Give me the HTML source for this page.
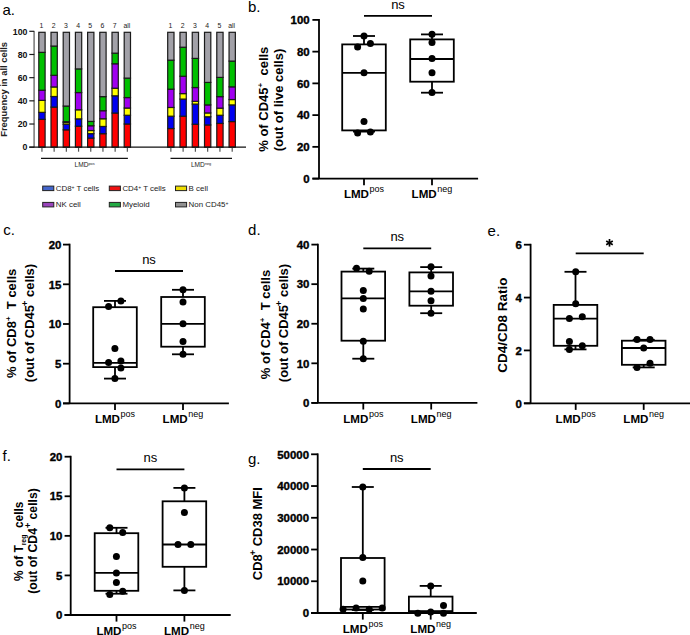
<!DOCTYPE html>
<html><head><meta charset="utf-8"><style>
html,body{margin:0;padding:0;background:#fff;}
svg{display:block;font-family:"Liberation Sans", sans-serif;}
</style></head><body>
<svg width="690" height="635" viewBox="0 0 690 635">
<rect width="690" height="635" fill="#fff"/>
<line x1="319.00" y1="19.00" x2="319.00" y2="178.60" stroke="#000" stroke-width="1.8"/>
<line x1="312.40" y1="178.60" x2="319.00" y2="178.60" stroke="#000" stroke-width="1.8"/>
<text transform="translate(309.70,182.80) scale(1.08,1)" font-size="10.6" font-weight="bold" text-anchor="end" stroke="#000" stroke-width="0.35">0</text>
<line x1="312.40" y1="146.86" x2="319.00" y2="146.86" stroke="#000" stroke-width="1.8"/>
<text transform="translate(309.70,151.06) scale(1.08,1)" font-size="10.6" font-weight="bold" text-anchor="end" stroke="#000" stroke-width="0.35">20</text>
<line x1="312.40" y1="115.12" x2="319.00" y2="115.12" stroke="#000" stroke-width="1.8"/>
<text transform="translate(309.70,119.32) scale(1.08,1)" font-size="10.6" font-weight="bold" text-anchor="end" stroke="#000" stroke-width="0.35">40</text>
<line x1="312.40" y1="83.38" x2="319.00" y2="83.38" stroke="#000" stroke-width="1.8"/>
<text transform="translate(309.70,87.58) scale(1.08,1)" font-size="10.6" font-weight="bold" text-anchor="end" stroke="#000" stroke-width="0.35">60</text>
<line x1="312.40" y1="51.64" x2="319.00" y2="51.64" stroke="#000" stroke-width="1.8"/>
<text transform="translate(309.70,55.84) scale(1.08,1)" font-size="10.6" font-weight="bold" text-anchor="end" stroke="#000" stroke-width="0.35">80</text>
<line x1="312.40" y1="19.90" x2="319.00" y2="19.90" stroke="#000" stroke-width="1.8"/>
<text transform="translate(309.70,24.10) scale(1.08,1)" font-size="10.6" font-weight="bold" text-anchor="end" stroke="#000" stroke-width="0.35">100</text>
<line x1="312.40" y1="178.60" x2="478.10" y2="178.60" stroke="#000" stroke-width="1.8"/>
<line x1="364.00" y1="178.60" x2="364.00" y2="185.20" stroke="#000" stroke-width="1.8"/>
<text x="364.00" y="198.20" text-anchor="middle" font-size="11.6" font-weight="bold">LMD<tspan font-size="9" font-weight="normal" dx="0.6" dy="-5.9">pos</tspan></text>
<line x1="432.00" y1="178.60" x2="432.00" y2="185.20" stroke="#000" stroke-width="1.8"/>
<text x="432.00" y="198.20" text-anchor="middle" font-size="11.6" font-weight="bold">LMD<tspan font-size="9" font-weight="normal" dx="0.6" dy="-5.9">neg</tspan></text>
<line x1="364.00" y1="36.00" x2="364.00" y2="44.40" stroke="#000" stroke-width="1.8"/>
<line x1="364.00" y1="130.40" x2="364.00" y2="131.60" stroke="#000" stroke-width="1.8"/>
<line x1="353.00" y1="36.00" x2="375.00" y2="36.00" stroke="#000" stroke-width="1.8"/>
<line x1="353.00" y1="131.60" x2="375.00" y2="131.60" stroke="#000" stroke-width="1.8"/>
<rect x="342.20" y="44.40" width="43.60" height="86.00" fill="none" stroke="#000" stroke-width="1.8"/>
<line x1="342.20" y1="72.90" x2="385.80" y2="72.90" stroke="#000" stroke-width="1.8"/>
<circle cx="364.00" cy="35.90" r="3.5" fill="#000"/>
<circle cx="357.60" cy="46.90" r="3.5" fill="#000"/>
<circle cx="370.40" cy="43.60" r="3.5" fill="#000"/>
<circle cx="364.00" cy="72.80" r="3.5" fill="#000"/>
<circle cx="364.00" cy="121.60" r="3.5" fill="#000"/>
<circle cx="357.60" cy="133.10" r="3.5" fill="#000"/>
<circle cx="370.40" cy="132.00" r="3.5" fill="#000"/>
<line x1="432.00" y1="34.40" x2="432.00" y2="39.40" stroke="#000" stroke-width="1.8"/>
<line x1="432.00" y1="81.70" x2="432.00" y2="92.70" stroke="#000" stroke-width="1.8"/>
<line x1="421.00" y1="34.40" x2="443.00" y2="34.40" stroke="#000" stroke-width="1.8"/>
<line x1="421.00" y1="92.70" x2="443.00" y2="92.70" stroke="#000" stroke-width="1.8"/>
<rect x="410.20" y="39.40" width="43.60" height="42.30" fill="none" stroke="#000" stroke-width="1.8"/>
<line x1="410.20" y1="59.00" x2="453.80" y2="59.00" stroke="#000" stroke-width="1.8"/>
<circle cx="432.00" cy="34.20" r="3.5" fill="#000"/>
<circle cx="432.00" cy="42.50" r="3.5" fill="#000"/>
<circle cx="432.00" cy="58.60" r="3.5" fill="#000"/>
<circle cx="432.00" cy="72.80" r="3.5" fill="#000"/>
<circle cx="432.00" cy="92.50" r="3.5" fill="#000"/>
<line x1="364.00" y1="15.80" x2="432.00" y2="15.80" stroke="#000" stroke-width="1.8"/>
<text x="398.00" y="8.90" font-size="13" font-weight="normal" text-anchor="middle" >ns</text>
<text transform="translate(268.00,99.20) rotate(-90)" font-size="13" font-weight="bold" text-anchor="middle">% of CD45<tspan font-size="8" dy="-5">+</tspan><tspan dy="5">&#160; cells</tspan></text>
<text transform="translate(283.30,100.00) rotate(-90)" font-size="13" font-weight="bold" text-anchor="middle">(out of live cells)</text>
<line x1="69.60" y1="243.70" x2="69.60" y2="403.40" stroke="#000" stroke-width="1.8"/>
<line x1="63.00" y1="403.40" x2="69.60" y2="403.40" stroke="#000" stroke-width="1.8"/>
<text transform="translate(61.40,407.60) scale(1.08,1)" font-size="10.6" font-weight="bold" text-anchor="end" stroke="#000" stroke-width="0.35">0</text>
<line x1="63.00" y1="363.70" x2="69.60" y2="363.70" stroke="#000" stroke-width="1.8"/>
<text transform="translate(61.40,367.90) scale(1.08,1)" font-size="10.6" font-weight="bold" text-anchor="end" stroke="#000" stroke-width="0.35">5</text>
<line x1="63.00" y1="324.00" x2="69.60" y2="324.00" stroke="#000" stroke-width="1.8"/>
<text transform="translate(61.40,328.20) scale(1.08,1)" font-size="10.6" font-weight="bold" text-anchor="end" stroke="#000" stroke-width="0.35">10</text>
<line x1="63.00" y1="284.30" x2="69.60" y2="284.30" stroke="#000" stroke-width="1.8"/>
<text transform="translate(61.40,288.50) scale(1.08,1)" font-size="10.6" font-weight="bold" text-anchor="end" stroke="#000" stroke-width="0.35">15</text>
<line x1="63.00" y1="244.60" x2="69.60" y2="244.60" stroke="#000" stroke-width="1.8"/>
<text transform="translate(61.40,248.80) scale(1.08,1)" font-size="10.6" font-weight="bold" text-anchor="end" stroke="#000" stroke-width="0.35">20</text>
<line x1="63.00" y1="403.40" x2="228.90" y2="403.40" stroke="#000" stroke-width="1.8"/>
<line x1="115.00" y1="403.40" x2="115.00" y2="410.00" stroke="#000" stroke-width="1.8"/>
<text x="115.00" y="423.00" text-anchor="middle" font-size="11.6" font-weight="bold">LMD<tspan font-size="9" font-weight="normal" dx="0.6" dy="-5.9">pos</tspan></text>
<line x1="183.00" y1="403.40" x2="183.00" y2="410.00" stroke="#000" stroke-width="1.8"/>
<text x="183.00" y="423.00" text-anchor="middle" font-size="11.6" font-weight="bold">LMD<tspan font-size="9" font-weight="normal" dx="0.6" dy="-5.9">neg</tspan></text>
<line x1="115.00" y1="300.90" x2="115.00" y2="307.20" stroke="#000" stroke-width="1.8"/>
<line x1="115.00" y1="367.10" x2="115.00" y2="378.60" stroke="#000" stroke-width="1.8"/>
<line x1="104.00" y1="300.90" x2="126.00" y2="300.90" stroke="#000" stroke-width="1.8"/>
<line x1="104.00" y1="378.60" x2="126.00" y2="378.60" stroke="#000" stroke-width="1.8"/>
<rect x="93.20" y="307.20" width="43.60" height="59.90" fill="none" stroke="#000" stroke-width="1.8"/>
<line x1="93.20" y1="362.90" x2="136.80" y2="362.90" stroke="#000" stroke-width="1.8"/>
<circle cx="120.90" cy="300.90" r="3.5" fill="#000"/>
<circle cx="108.60" cy="306.50" r="3.5" fill="#000"/>
<circle cx="114.90" cy="348.40" r="3.5" fill="#000"/>
<circle cx="108.60" cy="362.60" r="3.5" fill="#000"/>
<circle cx="120.90" cy="361.10" r="3.5" fill="#000"/>
<circle cx="120.90" cy="368.10" r="3.5" fill="#000"/>
<circle cx="114.90" cy="378.60" r="3.5" fill="#000"/>
<line x1="183.00" y1="289.80" x2="183.00" y2="297.00" stroke="#000" stroke-width="1.8"/>
<line x1="183.00" y1="346.70" x2="183.00" y2="354.30" stroke="#000" stroke-width="1.8"/>
<line x1="172.00" y1="289.80" x2="194.00" y2="289.80" stroke="#000" stroke-width="1.8"/>
<line x1="172.00" y1="354.30" x2="194.00" y2="354.30" stroke="#000" stroke-width="1.8"/>
<rect x="161.20" y="297.00" width="43.60" height="49.70" fill="none" stroke="#000" stroke-width="1.8"/>
<line x1="161.20" y1="323.80" x2="204.80" y2="323.80" stroke="#000" stroke-width="1.8"/>
<circle cx="183.00" cy="289.80" r="3.5" fill="#000"/>
<circle cx="183.00" cy="302.10" r="3.5" fill="#000"/>
<circle cx="183.00" cy="323.80" r="3.5" fill="#000"/>
<circle cx="183.00" cy="341.60" r="3.5" fill="#000"/>
<circle cx="183.00" cy="354.30" r="3.5" fill="#000"/>
<line x1="115.00" y1="271.00" x2="183.00" y2="271.00" stroke="#000" stroke-width="1.8"/>
<text x="149.00" y="264.10" font-size="13" font-weight="normal" text-anchor="middle" >ns</text>
<text transform="translate(15.90,323.40) rotate(-90)" font-size="13" font-weight="bold" text-anchor="middle">% of CD8<tspan font-size="8" dy="-5">+</tspan><tspan dy="5">&#160; T cells</tspan></text>
<text transform="translate(34.00,323.00) rotate(-90)" font-size="13" font-weight="bold" text-anchor="middle">(out of CD45<tspan font-size="9.5" dx="-1.3" dy="-6.3">+</tspan><tspan dy="6.3"> cells)</tspan></text>
<line x1="317.90" y1="243.70" x2="317.90" y2="402.90" stroke="#000" stroke-width="1.8"/>
<line x1="311.40" y1="402.90" x2="317.90" y2="402.90" stroke="#000" stroke-width="1.8"/>
<text transform="translate(309.40,407.10) scale(1.08,1)" font-size="10.6" font-weight="bold" text-anchor="end" stroke="#000" stroke-width="0.35">0</text>
<line x1="311.40" y1="363.32" x2="317.90" y2="363.32" stroke="#000" stroke-width="1.8"/>
<text transform="translate(309.40,367.52) scale(1.08,1)" font-size="10.6" font-weight="bold" text-anchor="end" stroke="#000" stroke-width="0.35">10</text>
<line x1="311.40" y1="323.75" x2="317.90" y2="323.75" stroke="#000" stroke-width="1.8"/>
<text transform="translate(309.40,327.95) scale(1.08,1)" font-size="10.6" font-weight="bold" text-anchor="end" stroke="#000" stroke-width="0.35">20</text>
<line x1="311.40" y1="284.17" x2="317.90" y2="284.17" stroke="#000" stroke-width="1.8"/>
<text transform="translate(309.40,288.37) scale(1.08,1)" font-size="10.6" font-weight="bold" text-anchor="end" stroke="#000" stroke-width="0.35">30</text>
<line x1="311.40" y1="244.60" x2="317.90" y2="244.60" stroke="#000" stroke-width="1.8"/>
<text transform="translate(309.40,248.80) scale(1.08,1)" font-size="10.6" font-weight="bold" text-anchor="end" stroke="#000" stroke-width="0.35">40</text>
<line x1="311.40" y1="402.90" x2="477.40" y2="402.90" stroke="#000" stroke-width="1.8"/>
<line x1="363.30" y1="402.90" x2="363.30" y2="409.50" stroke="#000" stroke-width="1.8"/>
<text x="363.30" y="422.50" text-anchor="middle" font-size="11.6" font-weight="bold">LMD<tspan font-size="9" font-weight="normal" dx="0.6" dy="-5.9">pos</tspan></text>
<line x1="431.20" y1="402.90" x2="431.20" y2="409.50" stroke="#000" stroke-width="1.8"/>
<text x="431.20" y="422.50" text-anchor="middle" font-size="11.6" font-weight="bold">LMD<tspan font-size="9" font-weight="normal" dx="0.6" dy="-5.9">neg</tspan></text>
<line x1="363.30" y1="268.60" x2="363.30" y2="271.60" stroke="#000" stroke-width="1.8"/>
<line x1="363.30" y1="340.70" x2="363.30" y2="358.70" stroke="#000" stroke-width="1.8"/>
<line x1="352.30" y1="268.60" x2="374.30" y2="268.60" stroke="#000" stroke-width="1.8"/>
<line x1="352.30" y1="358.70" x2="374.30" y2="358.70" stroke="#000" stroke-width="1.8"/>
<rect x="341.50" y="271.60" width="43.60" height="69.10" fill="none" stroke="#000" stroke-width="1.8"/>
<line x1="341.50" y1="298.30" x2="385.10" y2="298.30" stroke="#000" stroke-width="1.8"/>
<circle cx="356.50" cy="268.30" r="3.5" fill="#000"/>
<circle cx="369.20" cy="271.20" r="3.5" fill="#000"/>
<circle cx="363.30" cy="290.60" r="3.5" fill="#000"/>
<circle cx="363.30" cy="298.50" r="3.5" fill="#000"/>
<circle cx="363.30" cy="309.10" r="3.5" fill="#000"/>
<circle cx="363.30" cy="341.30" r="3.5" fill="#000"/>
<circle cx="363.30" cy="358.70" r="3.5" fill="#000"/>
<line x1="431.20" y1="267.10" x2="431.20" y2="272.40" stroke="#000" stroke-width="1.8"/>
<line x1="431.20" y1="305.70" x2="431.20" y2="313.20" stroke="#000" stroke-width="1.8"/>
<line x1="420.20" y1="267.10" x2="442.20" y2="267.10" stroke="#000" stroke-width="1.8"/>
<line x1="420.20" y1="313.20" x2="442.20" y2="313.20" stroke="#000" stroke-width="1.8"/>
<rect x="409.40" y="272.40" width="43.60" height="33.30" fill="none" stroke="#000" stroke-width="1.8"/>
<line x1="409.40" y1="291.30" x2="453.00" y2="291.30" stroke="#000" stroke-width="1.8"/>
<circle cx="431.00" cy="266.80" r="3.5" fill="#000"/>
<circle cx="431.00" cy="276.00" r="3.5" fill="#000"/>
<circle cx="431.00" cy="291.30" r="3.5" fill="#000"/>
<circle cx="431.00" cy="300.80" r="3.5" fill="#000"/>
<circle cx="431.00" cy="313.20" r="3.5" fill="#000"/>
<line x1="363.30" y1="248.40" x2="431.20" y2="248.40" stroke="#000" stroke-width="1.8"/>
<text x="397.25" y="241.00" font-size="13" font-weight="normal" text-anchor="middle" >ns</text>
<text transform="translate(269.60,324.50) rotate(-90)" font-size="13" font-weight="bold" text-anchor="middle">% of CD4<tspan font-size="8" dy="-5">+</tspan><tspan dy="5">&#160; T cells</tspan></text>
<text transform="translate(288.40,323.00) rotate(-90)" font-size="13" font-weight="bold" text-anchor="middle">(out of CD45<tspan font-size="9.5" dx="-1.3" dy="-6.3">+</tspan><tspan dy="6.3"> cells)</tspan></text>
<line x1="530.60" y1="243.80" x2="530.60" y2="403.30" stroke="#000" stroke-width="1.8"/>
<line x1="523.90" y1="403.30" x2="530.60" y2="403.30" stroke="#000" stroke-width="1.8"/>
<text transform="translate(521.80,407.50) scale(1.08,1)" font-size="10.6" font-weight="bold" text-anchor="end" stroke="#000" stroke-width="0.35">0</text>
<line x1="523.90" y1="350.43" x2="530.60" y2="350.43" stroke="#000" stroke-width="1.8"/>
<text transform="translate(521.80,354.63) scale(1.08,1)" font-size="10.6" font-weight="bold" text-anchor="end" stroke="#000" stroke-width="0.35">2</text>
<line x1="523.90" y1="297.57" x2="530.60" y2="297.57" stroke="#000" stroke-width="1.8"/>
<text transform="translate(521.80,301.77) scale(1.08,1)" font-size="10.6" font-weight="bold" text-anchor="end" stroke="#000" stroke-width="0.35">4</text>
<line x1="523.90" y1="244.70" x2="530.60" y2="244.70" stroke="#000" stroke-width="1.8"/>
<text transform="translate(521.80,248.90) scale(1.08,1)" font-size="10.6" font-weight="bold" text-anchor="end" stroke="#000" stroke-width="0.35">6</text>
<line x1="523.90" y1="403.30" x2="690.00" y2="403.30" stroke="#000" stroke-width="1.8"/>
<line x1="575.70" y1="403.30" x2="575.70" y2="409.90" stroke="#000" stroke-width="1.8"/>
<text x="575.70" y="422.90" text-anchor="middle" font-size="11.6" font-weight="bold">LMD<tspan font-size="9" font-weight="normal" dx="0.6" dy="-5.9">pos</tspan></text>
<line x1="643.70" y1="403.30" x2="643.70" y2="409.90" stroke="#000" stroke-width="1.8"/>
<text x="643.70" y="422.90" text-anchor="middle" font-size="11.6" font-weight="bold">LMD<tspan font-size="9" font-weight="normal" dx="0.6" dy="-5.9">neg</tspan></text>
<line x1="575.50" y1="271.80" x2="575.50" y2="304.90" stroke="#000" stroke-width="1.8"/>
<line x1="575.50" y1="345.80" x2="575.50" y2="349.40" stroke="#000" stroke-width="1.8"/>
<line x1="564.50" y1="271.80" x2="586.50" y2="271.80" stroke="#000" stroke-width="1.8"/>
<line x1="564.50" y1="349.40" x2="586.50" y2="349.40" stroke="#000" stroke-width="1.8"/>
<rect x="553.70" y="304.90" width="43.60" height="40.90" fill="none" stroke="#000" stroke-width="1.8"/>
<line x1="553.70" y1="318.70" x2="597.30" y2="318.70" stroke="#000" stroke-width="1.8"/>
<circle cx="575.70" cy="271.80" r="3.5" fill="#000"/>
<circle cx="575.70" cy="303.80" r="3.5" fill="#000"/>
<circle cx="569.40" cy="318.60" r="3.5" fill="#000"/>
<circle cx="582.30" cy="316.70" r="3.5" fill="#000"/>
<circle cx="569.40" cy="341.60" r="3.5" fill="#000"/>
<circle cx="569.40" cy="349.40" r="3.5" fill="#000"/>
<circle cx="582.30" cy="345.80" r="3.5" fill="#000"/>
<line x1="643.70" y1="339.80" x2="643.70" y2="340.70" stroke="#000" stroke-width="1.8"/>
<line x1="643.70" y1="364.80" x2="643.70" y2="367.40" stroke="#000" stroke-width="1.8"/>
<line x1="632.70" y1="339.80" x2="654.70" y2="339.80" stroke="#000" stroke-width="1.8"/>
<line x1="632.70" y1="367.40" x2="654.70" y2="367.40" stroke="#000" stroke-width="1.8"/>
<rect x="621.90" y="340.70" width="43.60" height="24.10" fill="none" stroke="#000" stroke-width="1.8"/>
<line x1="621.90" y1="348.00" x2="665.50" y2="348.00" stroke="#000" stroke-width="1.8"/>
<circle cx="637.00" cy="339.60" r="3.5" fill="#000"/>
<circle cx="650.00" cy="339.60" r="3.5" fill="#000"/>
<circle cx="643.70" cy="348.00" r="3.5" fill="#000"/>
<circle cx="650.00" cy="363.30" r="3.5" fill="#000"/>
<circle cx="637.00" cy="367.60" r="3.5" fill="#000"/>
<line x1="575.70" y1="253.30" x2="643.70" y2="253.30" stroke="#000" stroke-width="1.8"/>
<line x1="609.50" y1="239.00" x2="609.50" y2="246.60" stroke="#000" stroke-width="1.7"/>
<line x1="606.21" y1="240.90" x2="612.79" y2="244.70" stroke="#000" stroke-width="1.7"/>
<line x1="612.79" y1="240.90" x2="606.21" y2="244.70" stroke="#000" stroke-width="1.7"/>
<text transform="translate(506.80,325.10) rotate(-90)" font-size="13.5" font-weight="bold" text-anchor="middle">CD4/CD8 Ratio</text>
<line x1="70.70" y1="455.80" x2="70.70" y2="615.00" stroke="#000" stroke-width="1.8"/>
<line x1="64.60" y1="615.00" x2="70.70" y2="615.00" stroke="#000" stroke-width="1.8"/>
<text transform="translate(62.40,619.20) scale(1.08,1)" font-size="10.6" font-weight="bold" text-anchor="end" stroke="#000" stroke-width="0.35">0</text>
<line x1="64.60" y1="575.42" x2="70.70" y2="575.42" stroke="#000" stroke-width="1.8"/>
<text transform="translate(62.40,579.62) scale(1.08,1)" font-size="10.6" font-weight="bold" text-anchor="end" stroke="#000" stroke-width="0.35">5</text>
<line x1="64.60" y1="535.85" x2="70.70" y2="535.85" stroke="#000" stroke-width="1.8"/>
<text transform="translate(62.40,540.05) scale(1.08,1)" font-size="10.6" font-weight="bold" text-anchor="end" stroke="#000" stroke-width="0.35">10</text>
<line x1="64.60" y1="496.27" x2="70.70" y2="496.27" stroke="#000" stroke-width="1.8"/>
<text transform="translate(62.40,500.47) scale(1.08,1)" font-size="10.6" font-weight="bold" text-anchor="end" stroke="#000" stroke-width="0.35">15</text>
<line x1="64.60" y1="456.70" x2="70.70" y2="456.70" stroke="#000" stroke-width="1.8"/>
<text transform="translate(62.40,460.90) scale(1.08,1)" font-size="10.6" font-weight="bold" text-anchor="end" stroke="#000" stroke-width="0.35">20</text>
<line x1="64.60" y1="615.00" x2="230.70" y2="615.00" stroke="#000" stroke-width="1.8"/>
<line x1="116.50" y1="615.00" x2="116.50" y2="621.60" stroke="#000" stroke-width="1.8"/>
<text x="116.50" y="634.60" text-anchor="middle" font-size="11.6" font-weight="bold">LMD<tspan font-size="9" font-weight="normal" dx="0.6" dy="-5.9">pos</tspan></text>
<line x1="184.40" y1="615.00" x2="184.40" y2="621.60" stroke="#000" stroke-width="1.8"/>
<text x="184.40" y="634.60" text-anchor="middle" font-size="11.6" font-weight="bold">LMD<tspan font-size="9" font-weight="normal" dx="0.6" dy="-5.9">neg</tspan></text>
<line x1="116.50" y1="527.80" x2="116.50" y2="533.20" stroke="#000" stroke-width="1.8"/>
<line x1="116.50" y1="590.80" x2="116.50" y2="593.70" stroke="#000" stroke-width="1.8"/>
<line x1="105.50" y1="527.80" x2="127.50" y2="527.80" stroke="#000" stroke-width="1.8"/>
<line x1="105.50" y1="593.70" x2="127.50" y2="593.70" stroke="#000" stroke-width="1.8"/>
<rect x="94.70" y="533.20" width="43.60" height="57.60" fill="none" stroke="#000" stroke-width="1.8"/>
<line x1="94.70" y1="572.90" x2="138.30" y2="572.90" stroke="#000" stroke-width="1.8"/>
<circle cx="109.80" cy="527.80" r="3.5" fill="#000"/>
<circle cx="122.70" cy="532.60" r="3.5" fill="#000"/>
<circle cx="116.40" cy="556.60" r="3.5" fill="#000"/>
<circle cx="116.40" cy="572.90" r="3.5" fill="#000"/>
<circle cx="116.40" cy="582.40" r="3.5" fill="#000"/>
<circle cx="122.70" cy="591.20" r="3.5" fill="#000"/>
<circle cx="109.80" cy="594.60" r="3.5" fill="#000"/>
<line x1="184.40" y1="487.90" x2="184.40" y2="501.30" stroke="#000" stroke-width="1.8"/>
<line x1="184.40" y1="566.80" x2="184.40" y2="590.40" stroke="#000" stroke-width="1.8"/>
<line x1="173.40" y1="487.90" x2="195.40" y2="487.90" stroke="#000" stroke-width="1.8"/>
<line x1="173.40" y1="590.40" x2="195.40" y2="590.40" stroke="#000" stroke-width="1.8"/>
<rect x="162.60" y="501.30" width="43.60" height="65.50" fill="none" stroke="#000" stroke-width="1.8"/>
<line x1="162.60" y1="544.50" x2="206.20" y2="544.50" stroke="#000" stroke-width="1.8"/>
<circle cx="184.40" cy="487.90" r="3.5" fill="#000"/>
<circle cx="184.40" cy="512.60" r="3.5" fill="#000"/>
<circle cx="178.00" cy="544.50" r="3.5" fill="#000"/>
<circle cx="190.80" cy="544.50" r="3.5" fill="#000"/>
<circle cx="184.40" cy="590.40" r="3.5" fill="#000"/>
<line x1="116.50" y1="469.30" x2="184.40" y2="469.30" stroke="#000" stroke-width="1.8"/>
<text x="150.45" y="462.10" font-size="13" font-weight="normal" text-anchor="middle" >ns</text>
<text transform="translate(23.40,541.30) rotate(-90)" font-size="11.9" font-weight="bold" text-anchor="middle">% of T<tspan font-size="6.8" dy="2.6">reg</tspan><tspan dy="-2.6">&#160; cells</tspan></text>
<text transform="translate(36.80,541.00) rotate(-90)" font-size="12.2" font-weight="bold" text-anchor="middle">(out of CD4<tspan font-size="9" dy="-6">+</tspan><tspan dy="6"> cells)</tspan></text>
<line x1="317.70" y1="453.40" x2="317.70" y2="613.00" stroke="#000" stroke-width="1.8"/>
<line x1="311.10" y1="613.00" x2="317.70" y2="613.00" stroke="#000" stroke-width="1.8"/>
<text transform="translate(309.00,617.20) scale(1.08,1)" font-size="10.6" font-weight="bold" text-anchor="end" stroke="#000" stroke-width="0.35">0</text>
<line x1="311.10" y1="581.26" x2="317.70" y2="581.26" stroke="#000" stroke-width="1.8"/>
<text transform="translate(309.00,585.46) scale(1.08,1)" font-size="10.6" font-weight="bold" text-anchor="end" stroke="#000" stroke-width="0.35">10000</text>
<line x1="311.10" y1="549.52" x2="317.70" y2="549.52" stroke="#000" stroke-width="1.8"/>
<text transform="translate(309.00,553.72) scale(1.08,1)" font-size="10.6" font-weight="bold" text-anchor="end" stroke="#000" stroke-width="0.35">20000</text>
<line x1="311.10" y1="517.78" x2="317.70" y2="517.78" stroke="#000" stroke-width="1.8"/>
<text transform="translate(309.00,521.98) scale(1.08,1)" font-size="10.6" font-weight="bold" text-anchor="end" stroke="#000" stroke-width="0.35">30000</text>
<line x1="311.10" y1="486.04" x2="317.70" y2="486.04" stroke="#000" stroke-width="1.8"/>
<text transform="translate(309.00,490.24) scale(1.08,1)" font-size="10.6" font-weight="bold" text-anchor="end" stroke="#000" stroke-width="0.35">40000</text>
<line x1="311.10" y1="454.30" x2="317.70" y2="454.30" stroke="#000" stroke-width="1.8"/>
<text transform="translate(309.00,458.50) scale(1.08,1)" font-size="10.6" font-weight="bold" text-anchor="end" stroke="#000" stroke-width="0.35">50000</text>
<line x1="311.10" y1="613.00" x2="476.80" y2="613.00" stroke="#000" stroke-width="1.8"/>
<line x1="362.80" y1="613.00" x2="362.80" y2="619.60" stroke="#000" stroke-width="1.8"/>
<text x="362.80" y="632.60" text-anchor="middle" font-size="11.6" font-weight="bold">LMD<tspan font-size="9" font-weight="normal" dx="0.6" dy="-5.9">pos</tspan></text>
<line x1="430.70" y1="613.00" x2="430.70" y2="619.60" stroke="#000" stroke-width="1.8"/>
<text x="430.70" y="632.60" text-anchor="middle" font-size="11.6" font-weight="bold">LMD<tspan font-size="9" font-weight="normal" dx="0.6" dy="-5.9">neg</tspan></text>
<line x1="362.80" y1="487.00" x2="362.80" y2="558.00" stroke="#000" stroke-width="1.8"/>
<line x1="362.80" y1="609.50" x2="362.80" y2="610.00" stroke="#000" stroke-width="1.8"/>
<line x1="351.80" y1="487.00" x2="373.80" y2="487.00" stroke="#000" stroke-width="1.8"/>
<line x1="351.80" y1="610.00" x2="373.80" y2="610.00" stroke="#000" stroke-width="1.8"/>
<rect x="341.00" y="558.00" width="43.60" height="51.50" fill="none" stroke="#000" stroke-width="1.8"/>
<line x1="341.00" y1="606.80" x2="384.60" y2="606.80" stroke="#000" stroke-width="1.8"/>
<circle cx="362.80" cy="487.00" r="3.5" fill="#000"/>
<circle cx="362.80" cy="557.40" r="3.5" fill="#000"/>
<circle cx="362.80" cy="581.00" r="3.5" fill="#000"/>
<circle cx="343.10" cy="609.30" r="3.5" fill="#000"/>
<circle cx="356.10" cy="608.10" r="3.5" fill="#000"/>
<circle cx="369.20" cy="609.30" r="3.5" fill="#000"/>
<circle cx="382.20" cy="608.10" r="3.5" fill="#000"/>
<line x1="430.70" y1="585.90" x2="430.70" y2="596.60" stroke="#000" stroke-width="1.8"/>
<line x1="430.70" y1="611.30" x2="430.70" y2="612.00" stroke="#000" stroke-width="1.8"/>
<line x1="419.70" y1="585.90" x2="441.70" y2="585.90" stroke="#000" stroke-width="1.8"/>
<line x1="419.70" y1="612.00" x2="441.70" y2="612.00" stroke="#000" stroke-width="1.8"/>
<rect x="408.90" y="596.60" width="43.60" height="14.70" fill="none" stroke="#000" stroke-width="1.8"/>
<line x1="408.90" y1="611.30" x2="452.50" y2="611.30" stroke="#000" stroke-width="1.8"/>
<circle cx="430.70" cy="585.90" r="3.5" fill="#000"/>
<circle cx="443.50" cy="605.40" r="3.5" fill="#000"/>
<circle cx="417.80" cy="613.30" r="3.5" fill="#000"/>
<circle cx="430.70" cy="612.00" r="3.5" fill="#000"/>
<circle cx="443.50" cy="613.30" r="3.5" fill="#000"/>
<line x1="362.80" y1="469.00" x2="430.70" y2="469.00" stroke="#000" stroke-width="1.8"/>
<text x="396.75" y="461.90" font-size="13" font-weight="normal" text-anchor="middle" >ns</text>
<text transform="translate(262.30,533.70) rotate(-90)" font-size="13" font-weight="bold" text-anchor="middle">CD8<tspan font-size="9.5" dx="-1.3" dy="-6.3">+</tspan><tspan dy="6.3"> CD38 MFI</tspan></text>
<text x="248.00" y="11.50" font-size="15" font-weight="normal" text-anchor="start" >b.</text>
<text x="3.30" y="235.30" font-size="15" font-weight="normal" text-anchor="start" >c.</text>
<text x="248.10" y="235.30" font-size="15" font-weight="normal" text-anchor="start" >d.</text>
<text x="487.60" y="236.00" font-size="15" font-weight="normal" text-anchor="start" >e.</text>
<text x="2.60" y="460.50" font-size="15" font-weight="normal" text-anchor="start" >f.</text>
<text x="248.00" y="463.70" font-size="15" font-weight="normal" text-anchor="start" >g.</text>
<text x="2.40" y="14.80" font-size="15" font-weight="normal" text-anchor="start" >a.</text>
<rect x="38.80" y="119.34" width="6.30" height="27.86" fill="#ff0000" stroke="#1a1a1a" stroke-width="1.2"/>
<rect x="38.80" y="112.35" width="6.30" height="6.99" fill="#0000f0" stroke="#1a1a1a" stroke-width="1.2"/>
<rect x="38.80" y="100.35" width="6.30" height="12.00" fill="#ffff00" stroke="#1a1a1a" stroke-width="1.2"/>
<rect x="38.80" y="90.22" width="6.30" height="10.14" fill="#a000f0" stroke="#1a1a1a" stroke-width="1.2"/>
<rect x="38.80" y="52.35" width="6.30" height="37.86" fill="#00c000" stroke="#1a1a1a" stroke-width="1.2"/>
<rect x="38.80" y="32.30" width="6.30" height="20.05" fill="#a2a1a8" stroke="#1a1a1a" stroke-width="1.2"/>
<text x="41.45" y="27.6" font-size="6.9" text-anchor="middle" fill="#1a1a1a">1</text>
<line x1="41.95" y1="147.30" x2="41.95" y2="151.70" stroke="#555" stroke-width="1.2"/>
<rect x="51.00" y="107.11" width="6.30" height="40.09" fill="#ff0000" stroke="#1a1a1a" stroke-width="1.2"/>
<rect x="51.00" y="96.51" width="6.30" height="10.60" fill="#0000f0" stroke="#1a1a1a" stroke-width="1.2"/>
<rect x="51.00" y="86.95" width="6.30" height="9.55" fill="#ffff00" stroke="#1a1a1a" stroke-width="1.2"/>
<rect x="51.00" y="75.30" width="6.30" height="11.65" fill="#a000f0" stroke="#1a1a1a" stroke-width="1.2"/>
<rect x="51.00" y="46.06" width="6.30" height="29.24" fill="#00c000" stroke="#1a1a1a" stroke-width="1.2"/>
<rect x="51.00" y="32.30" width="6.30" height="13.76" fill="#a2a1a8" stroke="#1a1a1a" stroke-width="1.2"/>
<text x="53.65" y="27.6" font-size="6.9" text-anchor="middle" fill="#1a1a1a">2</text>
<line x1="54.15" y1="147.30" x2="54.15" y2="151.70" stroke="#555" stroke-width="1.2"/>
<rect x="63.20" y="129.83" width="6.30" height="17.37" fill="#ff0000" stroke="#1a1a1a" stroke-width="1.2"/>
<rect x="63.20" y="124.35" width="6.30" height="5.48" fill="#0000f0" stroke="#1a1a1a" stroke-width="1.2"/>
<rect x="63.20" y="122.60" width="6.30" height="1.75" fill="#ffff00" stroke="#1a1a1a" stroke-width="1.2"/>
<rect x="63.20" y="121.67" width="6.30" height="0.93" fill="#a000f0" stroke="#1a1a1a" stroke-width="1.2"/>
<rect x="63.20" y="106.06" width="6.30" height="15.61" fill="#00c000" stroke="#1a1a1a" stroke-width="1.2"/>
<rect x="63.20" y="32.30" width="6.30" height="73.76" fill="#a2a1a8" stroke="#1a1a1a" stroke-width="1.2"/>
<text x="65.85" y="27.6" font-size="6.9" text-anchor="middle" fill="#1a1a1a">3</text>
<line x1="66.35" y1="147.30" x2="66.35" y2="151.70" stroke="#555" stroke-width="1.2"/>
<rect x="75.40" y="126.21" width="6.30" height="20.99" fill="#ff0000" stroke="#1a1a1a" stroke-width="1.2"/>
<rect x="75.40" y="118.87" width="6.30" height="7.34" fill="#0000f0" stroke="#1a1a1a" stroke-width="1.2"/>
<rect x="75.40" y="109.79" width="6.30" height="9.09" fill="#ffff00" stroke="#1a1a1a" stroke-width="1.2"/>
<rect x="75.40" y="92.55" width="6.30" height="17.24" fill="#a000f0" stroke="#1a1a1a" stroke-width="1.2"/>
<rect x="75.40" y="68.90" width="6.30" height="23.65" fill="#00c000" stroke="#1a1a1a" stroke-width="1.2"/>
<rect x="75.40" y="32.30" width="6.30" height="36.60" fill="#a2a1a8" stroke="#1a1a1a" stroke-width="1.2"/>
<text x="78.05" y="27.6" font-size="6.9" text-anchor="middle" fill="#1a1a1a">4</text>
<line x1="78.55" y1="147.30" x2="78.55" y2="151.70" stroke="#555" stroke-width="1.2"/>
<rect x="87.60" y="138.10" width="6.30" height="9.10" fill="#ff0000" stroke="#1a1a1a" stroke-width="1.2"/>
<rect x="87.60" y="133.67" width="6.30" height="4.43" fill="#0000f0" stroke="#1a1a1a" stroke-width="1.2"/>
<rect x="87.60" y="130.52" width="6.30" height="3.15" fill="#ffff00" stroke="#1a1a1a" stroke-width="1.2"/>
<rect x="87.60" y="125.75" width="6.30" height="4.78" fill="#a000f0" stroke="#1a1a1a" stroke-width="1.2"/>
<rect x="87.60" y="121.44" width="6.30" height="4.31" fill="#00c000" stroke="#1a1a1a" stroke-width="1.2"/>
<rect x="87.60" y="32.30" width="6.30" height="89.14" fill="#a2a1a8" stroke="#1a1a1a" stroke-width="1.2"/>
<text x="90.25" y="27.6" font-size="6.9" text-anchor="middle" fill="#1a1a1a">5</text>
<line x1="90.75" y1="147.30" x2="90.75" y2="151.70" stroke="#555" stroke-width="1.2"/>
<rect x="99.80" y="133.67" width="6.30" height="13.53" fill="#ff0000" stroke="#1a1a1a" stroke-width="1.2"/>
<rect x="99.80" y="126.45" width="6.30" height="7.22" fill="#0000f0" stroke="#1a1a1a" stroke-width="1.2"/>
<rect x="99.80" y="118.76" width="6.30" height="7.69" fill="#ffff00" stroke="#1a1a1a" stroke-width="1.2"/>
<rect x="99.80" y="110.72" width="6.30" height="8.04" fill="#a000f0" stroke="#1a1a1a" stroke-width="1.2"/>
<rect x="99.80" y="96.62" width="6.30" height="14.10" fill="#00c000" stroke="#1a1a1a" stroke-width="1.2"/>
<rect x="99.80" y="32.30" width="6.30" height="64.32" fill="#a2a1a8" stroke="#1a1a1a" stroke-width="1.2"/>
<text x="102.45" y="27.6" font-size="6.9" text-anchor="middle" fill="#1a1a1a">6</text>
<line x1="102.95" y1="147.30" x2="102.95" y2="151.70" stroke="#555" stroke-width="1.2"/>
<rect x="112.00" y="113.05" width="6.30" height="34.15" fill="#ff0000" stroke="#1a1a1a" stroke-width="1.2"/>
<rect x="112.00" y="95.81" width="6.30" height="17.24" fill="#0000f0" stroke="#1a1a1a" stroke-width="1.2"/>
<rect x="112.00" y="88.23" width="6.30" height="7.57" fill="#ffff00" stroke="#1a1a1a" stroke-width="1.2"/>
<rect x="112.00" y="63.77" width="6.30" height="24.46" fill="#a000f0" stroke="#1a1a1a" stroke-width="1.2"/>
<rect x="112.00" y="53.17" width="6.30" height="10.60" fill="#00c000" stroke="#1a1a1a" stroke-width="1.2"/>
<rect x="112.00" y="32.30" width="6.30" height="20.87" fill="#a2a1a8" stroke="#1a1a1a" stroke-width="1.2"/>
<text x="114.65" y="27.6" font-size="6.9" text-anchor="middle" fill="#1a1a1a">7</text>
<line x1="115.15" y1="147.30" x2="115.15" y2="151.70" stroke="#555" stroke-width="1.2"/>
<rect x="124.20" y="124.00" width="6.30" height="23.20" fill="#ff0000" stroke="#1a1a1a" stroke-width="1.2"/>
<rect x="124.20" y="115.26" width="6.30" height="8.74" fill="#0000f0" stroke="#1a1a1a" stroke-width="1.2"/>
<rect x="124.20" y="108.04" width="6.30" height="7.22" fill="#ffff00" stroke="#1a1a1a" stroke-width="1.2"/>
<rect x="124.20" y="97.55" width="6.30" height="10.48" fill="#a000f0" stroke="#1a1a1a" stroke-width="1.2"/>
<rect x="124.20" y="78.10" width="6.30" height="19.46" fill="#00c000" stroke="#1a1a1a" stroke-width="1.2"/>
<rect x="124.20" y="32.30" width="6.30" height="45.80" fill="#a2a1a8" stroke="#1a1a1a" stroke-width="1.2"/>
<text x="126.85" y="27.6" font-size="6.9" text-anchor="middle" fill="#1a1a1a">all</text>
<line x1="127.35" y1="147.30" x2="127.35" y2="151.70" stroke="#555" stroke-width="1.2"/>
<rect x="167.70" y="128.54" width="6.30" height="18.66" fill="#ff0000" stroke="#1a1a1a" stroke-width="1.2"/>
<rect x="167.70" y="116.19" width="6.30" height="12.35" fill="#0000f0" stroke="#1a1a1a" stroke-width="1.2"/>
<rect x="167.70" y="107.46" width="6.30" height="8.74" fill="#ffff00" stroke="#1a1a1a" stroke-width="1.2"/>
<rect x="167.70" y="89.17" width="6.30" height="18.29" fill="#a000f0" stroke="#1a1a1a" stroke-width="1.2"/>
<rect x="167.70" y="60.16" width="6.30" height="29.01" fill="#00c000" stroke="#1a1a1a" stroke-width="1.2"/>
<rect x="167.70" y="32.30" width="6.30" height="27.86" fill="#a2a1a8" stroke="#1a1a1a" stroke-width="1.2"/>
<text x="170.35" y="27.6" font-size="6.9" text-anchor="middle" fill="#1a1a1a">1</text>
<line x1="170.85" y1="147.30" x2="170.85" y2="151.70" stroke="#555" stroke-width="1.2"/>
<rect x="179.97" y="116.19" width="6.30" height="31.01" fill="#ff0000" stroke="#1a1a1a" stroke-width="1.2"/>
<rect x="179.97" y="99.07" width="6.30" height="17.13" fill="#0000f0" stroke="#1a1a1a" stroke-width="1.2"/>
<rect x="179.97" y="93.59" width="6.30" height="5.48" fill="#ffff00" stroke="#1a1a1a" stroke-width="1.2"/>
<rect x="179.97" y="76.24" width="6.30" height="17.36" fill="#a000f0" stroke="#1a1a1a" stroke-width="1.2"/>
<rect x="179.97" y="47.23" width="6.30" height="29.01" fill="#00c000" stroke="#1a1a1a" stroke-width="1.2"/>
<rect x="179.97" y="32.30" width="6.30" height="14.93" fill="#a2a1a8" stroke="#1a1a1a" stroke-width="1.2"/>
<text x="182.62" y="27.6" font-size="6.9" text-anchor="middle" fill="#1a1a1a">2</text>
<line x1="183.12" y1="147.30" x2="183.12" y2="151.70" stroke="#555" stroke-width="1.2"/>
<rect x="192.24" y="124.23" width="6.30" height="22.97" fill="#ff0000" stroke="#1a1a1a" stroke-width="1.2"/>
<rect x="192.24" y="104.08" width="6.30" height="20.15" fill="#0000f0" stroke="#1a1a1a" stroke-width="1.2"/>
<rect x="192.24" y="101.28" width="6.30" height="2.80" fill="#ffff00" stroke="#1a1a1a" stroke-width="1.2"/>
<rect x="192.24" y="87.54" width="6.30" height="13.75" fill="#a000f0" stroke="#1a1a1a" stroke-width="1.2"/>
<rect x="192.24" y="58.41" width="6.30" height="29.12" fill="#00c000" stroke="#1a1a1a" stroke-width="1.2"/>
<rect x="192.24" y="32.30" width="6.30" height="26.11" fill="#a2a1a8" stroke="#1a1a1a" stroke-width="1.2"/>
<text x="194.89" y="27.6" font-size="6.9" text-anchor="middle" fill="#1a1a1a">3</text>
<line x1="195.39" y1="147.30" x2="195.39" y2="151.70" stroke="#555" stroke-width="1.2"/>
<rect x="204.51" y="124.93" width="6.30" height="22.27" fill="#ff0000" stroke="#1a1a1a" stroke-width="1.2"/>
<rect x="204.51" y="116.78" width="6.30" height="8.16" fill="#0000f0" stroke="#1a1a1a" stroke-width="1.2"/>
<rect x="204.51" y="112.93" width="6.30" height="3.84" fill="#ffff00" stroke="#1a1a1a" stroke-width="1.2"/>
<rect x="204.51" y="104.89" width="6.30" height="8.04" fill="#a000f0" stroke="#1a1a1a" stroke-width="1.2"/>
<rect x="204.51" y="82.41" width="6.30" height="22.48" fill="#00c000" stroke="#1a1a1a" stroke-width="1.2"/>
<rect x="204.51" y="32.30" width="6.30" height="50.11" fill="#a2a1a8" stroke="#1a1a1a" stroke-width="1.2"/>
<text x="207.16" y="27.6" font-size="6.9" text-anchor="middle" fill="#1a1a1a">4</text>
<line x1="207.66" y1="147.30" x2="207.66" y2="151.70" stroke="#555" stroke-width="1.2"/>
<rect x="216.78" y="123.42" width="6.30" height="23.78" fill="#ff0000" stroke="#1a1a1a" stroke-width="1.2"/>
<rect x="216.78" y="115.26" width="6.30" height="8.16" fill="#0000f0" stroke="#1a1a1a" stroke-width="1.2"/>
<rect x="216.78" y="108.16" width="6.30" height="7.11" fill="#ffff00" stroke="#1a1a1a" stroke-width="1.2"/>
<rect x="216.78" y="96.62" width="6.30" height="11.53" fill="#a000f0" stroke="#1a1a1a" stroke-width="1.2"/>
<rect x="216.78" y="77.40" width="6.30" height="19.22" fill="#00c000" stroke="#1a1a1a" stroke-width="1.2"/>
<rect x="216.78" y="32.30" width="6.30" height="45.10" fill="#a2a1a8" stroke="#1a1a1a" stroke-width="1.2"/>
<text x="219.43" y="27.6" font-size="6.9" text-anchor="middle" fill="#1a1a1a">5</text>
<line x1="219.93" y1="147.30" x2="219.93" y2="151.70" stroke="#555" stroke-width="1.2"/>
<rect x="229.05" y="121.55" width="6.30" height="25.65" fill="#ff0000" stroke="#1a1a1a" stroke-width="1.2"/>
<rect x="229.05" y="104.89" width="6.30" height="16.66" fill="#0000f0" stroke="#1a1a1a" stroke-width="1.2"/>
<rect x="229.05" y="99.54" width="6.30" height="5.36" fill="#ffff00" stroke="#1a1a1a" stroke-width="1.2"/>
<rect x="229.05" y="86.84" width="6.30" height="12.70" fill="#a000f0" stroke="#1a1a1a" stroke-width="1.2"/>
<rect x="229.05" y="61.09" width="6.30" height="25.75" fill="#00c000" stroke="#1a1a1a" stroke-width="1.2"/>
<rect x="229.05" y="32.30" width="6.30" height="28.79" fill="#a2a1a8" stroke="#1a1a1a" stroke-width="1.2"/>
<text x="231.70" y="27.6" font-size="6.9" text-anchor="middle" fill="#1a1a1a">all</text>
<line x1="232.20" y1="147.30" x2="232.20" y2="151.70" stroke="#555" stroke-width="1.2"/>
<line x1="34.10" y1="31.30" x2="34.10" y2="147.30" stroke="#777" stroke-width="1.5"/>
<line x1="29.30" y1="147.20" x2="34.30" y2="147.20" stroke="#1a1a1a" stroke-width="1.2"/>
<text x="27.5" y="150.40" font-size="8.8" font-weight="bold" text-anchor="end" fill="#111">0</text>
<line x1="29.30" y1="124.02" x2="34.30" y2="124.02" stroke="#1a1a1a" stroke-width="1.2"/>
<text x="27.5" y="127.22" font-size="8.8" font-weight="bold" text-anchor="end" fill="#111">20</text>
<line x1="29.30" y1="100.84" x2="34.30" y2="100.84" stroke="#1a1a1a" stroke-width="1.2"/>
<text x="27.5" y="104.04" font-size="8.8" font-weight="bold" text-anchor="end" fill="#111">40</text>
<line x1="29.30" y1="77.66" x2="34.30" y2="77.66" stroke="#1a1a1a" stroke-width="1.2"/>
<text x="27.5" y="80.86" font-size="8.8" font-weight="bold" text-anchor="end" fill="#111">60</text>
<line x1="29.30" y1="54.48" x2="34.30" y2="54.48" stroke="#1a1a1a" stroke-width="1.2"/>
<text x="27.5" y="57.68" font-size="8.8" font-weight="bold" text-anchor="end" fill="#111">80</text>
<line x1="29.30" y1="31.30" x2="34.30" y2="31.30" stroke="#1a1a1a" stroke-width="1.2"/>
<text x="27.5" y="34.50" font-size="8.8" font-weight="bold" text-anchor="end" fill="#111">100</text>
<line x1="29.30" y1="147.20" x2="246.00" y2="147.20" stroke="#111" stroke-width="1.3"/>
<line x1="41.00" y1="158.40" x2="127.90" y2="158.40" stroke="#111" stroke-width="1.3"/>
<line x1="170.50" y1="158.40" x2="232.00" y2="158.40" stroke="#111" stroke-width="1.3"/>
<text x="84.6" y="167.1" font-size="6.6" text-anchor="middle" fill="#222">LMD<tspan font-size="3.8" dy="-2.4">pos</tspan></text>
<text x="201.1" y="167.1" font-size="6.6" text-anchor="middle" fill="#222">LMD<tspan font-size="3.8" dy="-2.4">neg</tspan></text>
<text transform="translate(6.8,89.35) rotate(-90)" font-size="9.4" font-weight="bold" text-anchor="middle" fill="#222">Frequency in all cells</text>
<rect x="42.70" y="186.10" width="11.1" height="4.5" fill="#4466cc" stroke="#222" stroke-width="1"/>
<text x="55.80" y="191.00" font-size="7.9" fill="#1a1a1a">CD8<tspan font-size="5" dy="-2.5">+</tspan><tspan dy="2.5"> T cells</tspan></text>
<rect x="109.30" y="186.10" width="11.1" height="4.5" fill="#ee1111" stroke="#222" stroke-width="1"/>
<text x="122.40" y="191.00" font-size="7.9" fill="#1a1a1a">CD4<tspan font-size="5" dy="-2.5">+</tspan><tspan dy="2.5"> T cells</tspan></text>
<rect x="175.50" y="186.10" width="11.1" height="4.5" fill="#eedd00" stroke="#222" stroke-width="1"/>
<text x="188.60" y="191.00" font-size="7.9" fill="#1a1a1a">B cell</text>
<rect x="42.70" y="202.40" width="11.1" height="4.5" fill="#9944bb" stroke="#222" stroke-width="1"/>
<text x="55.80" y="207.30" font-size="7.9" fill="#1a1a1a">NK cell</text>
<rect x="109.30" y="202.40" width="11.1" height="4.5" fill="#22aa44" stroke="#222" stroke-width="1"/>
<text x="122.40" y="207.30" font-size="7.9" fill="#1a1a1a">Myeloid</text>
<rect x="175.50" y="202.40" width="11.1" height="4.5" fill="#909090" stroke="#222" stroke-width="1"/>
<text x="188.60" y="207.30" font-size="7.9" fill="#1a1a1a">Non CD45<tspan font-size="5" dy="-2.5">+</tspan></text>
</svg>
</body></html>
